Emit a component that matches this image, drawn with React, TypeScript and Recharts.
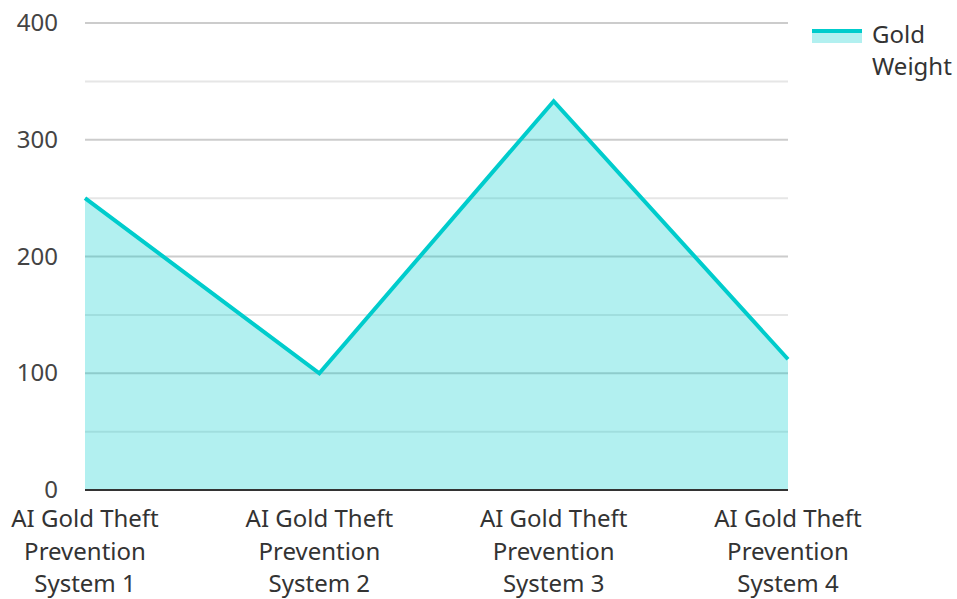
import React from 'react';
import { AreaChart, Area, XAxis, YAxis, CartesianGrid, Legend } from 'recharts';

const categories = ['AI Gold Theft Prevention System 1', 'AI Gold Theft Prevention System 2', 'AI Gold Theft Prevention System 3', 'AI Gold Theft Prevention System 4'];
const goldWeight = [250, 100, 333, 112];
const yTicks = [0, 50, 100, 150, 200, 250, 300, 350, 400];
const seriesName = 'Gold Weight';

const data = categories.map((c, i) => ({ name: c, value: goldWeight[i] }));

const FONT = '"Noto Sans", "Open Sans", sans-serif';

const XTick = (props: any) => {
  const { x, y, payload } = props;
  const v: string = payload.value;
  const m = v.match(/^(AI Gold Theft) (Prevention) (System \d+)$/);
  const lines = m ? [m[1], m[2], m[3]] : [v];
  return (
    <text x={x} y={y} textAnchor="middle" fontFamily={FONT} fontSize={24} fill="#333">
      {lines.map((l, i) => (
        <tspan key={i} x={x} dy={i === 0 ? 29 : 32.5}>{l}</tspan>
      ))}
    </text>
  );
};

const YTick = (props: any) => {
  const { x, y, payload } = props;
  if (payload.value % 100 !== 0) return <g />;
  return (
    <text x={x} y={y} dy={8} textAnchor="end" fontFamily={FONT} fontSize={24} fill="#444">
      {payload.value}
    </text>
  );
};

const GridLine = (props: any) => {
  const { x1, x2, y1, y2, index } = props;
  const major = index % 2 === 0;
  return <line x1={x1} x2={x2} y1={y1} y2={y2} stroke={major ? '#cccccc' : '#e6e6e6'} strokeWidth={2} fill="none" />;
};

const LegendContent = () => (
  <div style={{ display: 'flex', alignItems: 'flex-start', fontFamily: FONT, fontSize: 24, color: '#333' }}>
    <svg width={50} height={20} style={{ marginTop: 10 }}>
      <rect x={0} y={3} width={50} height={12} fill="#00cccc" fillOpacity={0.3} />
      <rect x={0} y={1} width={50} height={4} fill="#00cccc" />
    </svg>
    <div style={{ marginLeft: 10, lineHeight: '32px' }}>Gold<br />Weight</div>
  </div>
);

export default function App() {
  return (
    <div style={{ position: 'absolute', left: 0, top: 0, background: '#fff' }}>
      <AreaChart width={957} height={599} data={data} margin={{ top: 23, right: 29, bottom: 0, left: 15 }}>
        <CartesianGrid horizontal={GridLine} vertical={false} />
        <XAxis dataKey="name" tick={<XTick />} tickLine={false} axisLine={{ stroke: '#333', strokeWidth: 2 }} height={109} interval={0} />
        <YAxis domain={[0, 400]} ticks={yTicks} interval={0} width={70} tickLine={false} axisLine={false} tickSize={0} tickMargin={27}
          tick={<YTick />} />
        <Legend layout="vertical" verticalAlign="top" align="right" content={<LegendContent />}
          wrapperStyle={{ left: 812, top: 18, width: 140 }} />
        <Area type="linear" dataKey="value" name={seriesName} stroke="#00cccc" strokeWidth={4} fill="#00cccc" fillOpacity={0.3} isAnimationActive={false} dot={false} activeDot={false} />
      </AreaChart>
    </div>
  );
}
